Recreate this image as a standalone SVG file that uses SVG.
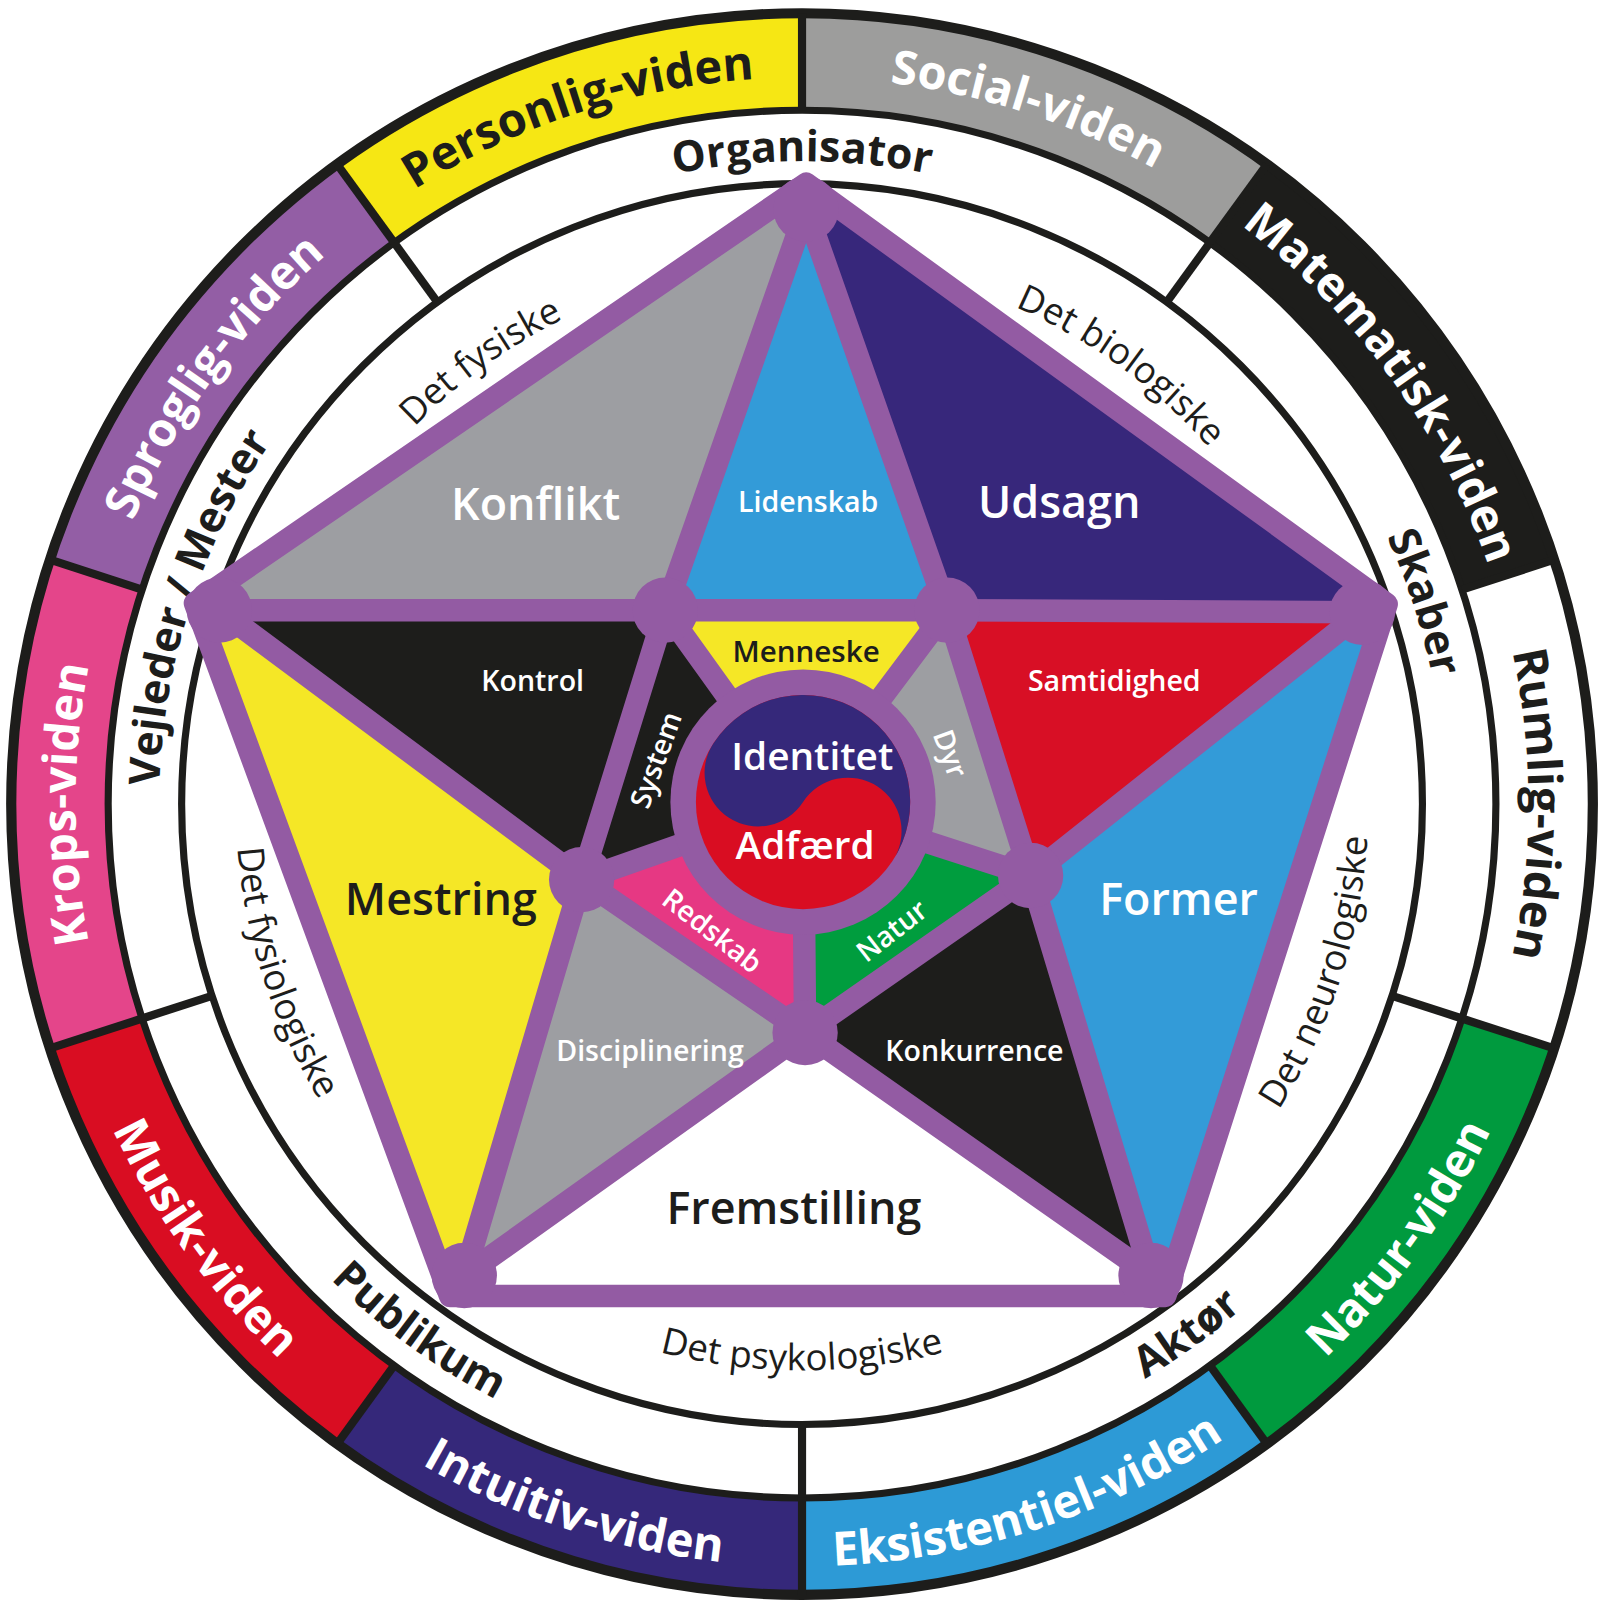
<svg xmlns="http://www.w3.org/2000/svg" xmlns:xlink="http://www.w3.org/1999/xlink" width="1600" height="1600" viewBox="0 0 1600 1600">
<style>
.ob{font-family:"Open Sans","DejaVu Sans",sans-serif;font-weight:700;font-size:46px}
.rl{font-family:"Open Sans","DejaVu Sans",sans-serif;font-weight:700;font-size:42px;fill:#1d1d1b}
.dt{font-family:"Open Sans","DejaVu Sans",sans-serif;font-weight:400;font-size:36px;fill:#1d1d1b}
.big{font-family:"Open Sans","DejaVu Sans",sans-serif;font-weight:600;font-size:44px;text-anchor:middle}
.sm{font-family:"Open Sans","DejaVu Sans",sans-serif;font-weight:600;font-size:28px;text-anchor:middle}
.w{fill:#fff}.k{fill:#1d1d1b}
.pl{fill:none;stroke:#935ba3;stroke-width:22;stroke-linejoin:round;stroke-linecap:round}
.dv{stroke:#1d1d1b;stroke-width:8}
.dot{fill:#935ba3}
</style>
<defs>
<path id="seg" d="M786,13 A775,775 0 0 1 1241.5,161 L1185.7,237.9 A680,680 0 0 0 786,108 Z"/>
<path id="pPer" d="M273.8,293.4 A712,712 0 0 1 909.6,86.8"/>
<path id="pSoc" d="M662.4,86.8 A712,712 0 0 1 1298.2,293.4"/>
<path id="pMat" d="M1098.2,148.1 A712,712 0 0 1 1491.1,688.9"/>
<path id="pRum" d="M1414.6,453.7 A712,712 0 0 1 1414.6,1122.3"/>
<path id="pKro" d="M157.4,1122.3 A712,712 0 0 1 157.4,453.7"/>
<path id="pSpr" d="M80.9,688.9 A712,712 0 0 1 473.8,148.1"/>
<path id="pNat" d="M1113.5,1459.4 A747,747 0 0 0 1525.8,892"/>
<path id="pEks" d="M656.3,1523.6 A747,747 0 0 0 1323.4,1306.9"/>
<path id="pInt" d="M248.6,1306.9 A747,747 0 0 0 915.7,1523.6"/>
<path id="pMus" d="M46.2,892 A747,747 0 0 0 458.5,1459.4"/>
<path id="pOrg" d="M519.7,217 A630,630 0 0 1 1052.3,217"/>
<path id="pSka" d="M1282.5,400.1 A630,630 0 0 1 1415.6,810"/>
<path id="pVej" d="M160.8,864.8 A630,630 0 0 1 325.3,358.3"/>
<path id="pAkt" d="M966.7,1418.6 A656,656 0 0 0 1329.8,1154.8"/>
<path id="pPub" d="M242.2,1154.8 A656,656 0 0 0 605.3,1418.6"/>
<path id="pFys" d="M322.5,531.1 A530,530 0 0 1 684.9,267.8"/>
<path id="pBio" d="M841.4,260.9 A530,530 0 0 1 1270.2,572.4"/>
<path id="pNeu" d="M1157.4,1200.4 A555,555 0 0 0 1328.8,672.6"/>
<path id="pPsy" d="M508.5,1268.6 A555,555 0 0 0 1063.5,1268.6"/>
<path id="pFsl" d="M243.2,672.6 A555,555 0 0 0 414.6,1200.4"/>
</defs>
<g transform="scale(1.0204)">
<g id="ring">
<circle cx="786" cy="788" r="775" fill="#fff"/>
<use xlink:href="#seg" fill="#9d9d9c"/>
<use xlink:href="#seg" fill="#1d1d1b" transform="rotate(36 786 788)"/>
<use xlink:href="#seg" fill="#ffffff" transform="rotate(72 786 788)"/>
<use xlink:href="#seg" fill="#009a3e" transform="rotate(108 786 788)"/>
<use xlink:href="#seg" fill="#2d9ad6" transform="rotate(144 786 788)"/>
<use xlink:href="#seg" fill="#35287a" transform="rotate(180 786 788)"/>
<use xlink:href="#seg" fill="#d90d22" transform="rotate(216 786 788)"/>
<use xlink:href="#seg" fill="#e4458a" transform="rotate(252 786 788)"/>
<use xlink:href="#seg" fill="#935ea5" transform="rotate(288 786 788)"/>
<use xlink:href="#seg" fill="#f6e714" transform="rotate(324 786 788)"/>
<circle cx="786" cy="788" r="775" fill="none" stroke="#1d1d1b" stroke-width="10"/>
<circle cx="786" cy="788" r="680" fill="none" stroke="#1d1d1b" stroke-width="7"/>
<circle cx="786" cy="788" r="608" fill="none" stroke="#1d1d1b" stroke-width="7"/>
<g>
<line class="dv" x1="786" y1="13" x2="786" y2="108"/>
<line class="dv" x1="786" y1="13" x2="786" y2="108" transform="rotate(36 786 788)"/>
<line class="dv" x1="786" y1="13" x2="786" y2="108" transform="rotate(72 786 788)"/>
<line class="dv" x1="786" y1="13" x2="786" y2="108" transform="rotate(108 786 788)"/>
<line class="dv" x1="786" y1="13" x2="786" y2="108" transform="rotate(144 786 788)"/>
<line class="dv" x1="786" y1="13" x2="786" y2="108" transform="rotate(180 786 788)"/>
<line class="dv" x1="786" y1="13" x2="786" y2="108" transform="rotate(216 786 788)"/>
<line class="dv" x1="786" y1="13" x2="786" y2="108" transform="rotate(252 786 788)"/>
<line class="dv" x1="786" y1="13" x2="786" y2="108" transform="rotate(288 786 788)"/>
<line class="dv" x1="786" y1="13" x2="786" y2="108" transform="rotate(324 786 788)"/>
<line class="dv" x1="786" y1="108" x2="786" y2="180" transform="rotate(36 786 788)"/>
<line class="dv" x1="786" y1="108" x2="786" y2="180" transform="rotate(108 786 788)"/>
<line class="dv" x1="786" y1="108" x2="786" y2="180" transform="rotate(180 786 788)"/>
<line class="dv" x1="786" y1="108" x2="786" y2="180" transform="rotate(252 786 788)"/>
<line class="dv" x1="786" y1="108" x2="786" y2="180" transform="rotate(324 786 788)"/>
</g>
<text class="ob k"><textPath xlink:href="#pPer" startOffset="50%" text-anchor="middle">Personlig-viden</textPath></text>
<text class="ob w"><textPath xlink:href="#pSoc" startOffset="50%" text-anchor="middle">Social-viden</textPath></text>
<text class="ob w"><textPath xlink:href="#pMat" startOffset="50%" text-anchor="middle">Matematisk-viden</textPath></text>
<text class="ob k"><textPath xlink:href="#pRum" startOffset="50%" text-anchor="middle">Rumlig-viden</textPath></text>
<text class="ob w"><textPath xlink:href="#pNat" startOffset="50%" text-anchor="middle">Natur-viden</textPath></text>
<text class="ob w"><textPath xlink:href="#pEks" startOffset="50%" text-anchor="middle">Eksistentiel-viden</textPath></text>
<text class="ob w"><textPath xlink:href="#pInt" startOffset="50%" text-anchor="middle">Intuitiv-viden</textPath></text>
<text class="ob w"><textPath xlink:href="#pMus" startOffset="50%" text-anchor="middle">Musik-viden</textPath></text>
<text class="ob w"><textPath xlink:href="#pKro" startOffset="50%" text-anchor="middle">Krops-viden</textPath></text>
<text class="ob w"><textPath xlink:href="#pSpr" startOffset="50%" text-anchor="middle">Sproglig-viden</textPath></text>
<text class="rl"><textPath xlink:href="#pOrg" startOffset="50%" text-anchor="middle">Organisator</textPath></text>
<text class="rl"><textPath xlink:href="#pSka" startOffset="50%" text-anchor="middle">Skaber</textPath></text>
<text class="rl"><textPath xlink:href="#pAkt" startOffset="50%" text-anchor="middle">Aktør</textPath></text>
<text class="rl"><textPath xlink:href="#pPub" startOffset="50%" text-anchor="middle">Publikum</textPath></text>
<text class="rl"><textPath xlink:href="#pVej" startOffset="50%" text-anchor="middle">Vejleder / Mester</textPath></text>
<text class="dt"><textPath xlink:href="#pFys" startOffset="50%" text-anchor="middle">Det fysiske</textPath></text>
<text class="dt"><textPath xlink:href="#pBio" startOffset="50%" text-anchor="middle">Det biologiske</textPath></text>
<text class="dt"><textPath xlink:href="#pNeu" startOffset="50%" text-anchor="middle">Det neurologiske</textPath></text>
<text class="dt"><textPath xlink:href="#pPsy" startOffset="50%" text-anchor="middle">Det psykologiske</textPath></text>
<text class="dt"><textPath xlink:href="#pFsl" startOffset="50%" text-anchor="middle">Det fysiologiske</textPath></text>
</g>
<g id="star-fills">
<polygon points="191,591 790,180 652,598" fill="#9d9ea2"/>
<polygon points="790,180 928,598 652,598" fill="#339bd8"/>
<polygon points="790,180 1359,592 928,598" fill="#37277b"/>
<polygon points="1359,592 1010,858 928,598" fill="#d80f25"/>
<polygon points="1359,592 1142,1270 1010,858" fill="#339bd8"/>
<polygon points="1142,1270 789,1012 1010,858" fill="#1d1d1b"/>
<polygon points="1142,1270 441,1270 789,1012" fill="#ffffff"/>
<polygon points="441,1270 570,862 789,1012" fill="#9d9ea2"/>
<polygon points="441,1270 191,591 570,862" fill="#f5e726"/>
<polygon points="191,591 652,598 570,862" fill="#1d1d1b"/>
<polygon points="787,786 652,598 928,598" fill="#f5e726"/>
<polygon points="787,786 928,598 1010,858" fill="#9d9ea2"/>
<polygon points="787,786 1010,858 789,1012" fill="#009d3e"/>
<polygon points="787,786 789,1012 570,862" fill="#e63883"/>
<polygon points="787,786 570,862 652,598" fill="#1d1d1b"/>
</g>
<g id="connectors">
<polyline class="pl" points="790,205 652,598 570,862 455,1250"/>
<polyline class="pl" points="790,205 928,598 1010,858 1128,1250"/>
<polyline class="pl" points="215,598 652,598 928,598 1335,600"/>
<polyline class="pl" points="215,598 570,862 789,1012 1128,1250"/>
<polyline class="pl" points="1335,600 1010,858 789,1012 455,1250"/>
<polygon class="pl" points="191,591 790,180 1359,592 1142,1270 441,1270" stroke-width="24"/>
<line class="pl" x1="652" y1="598" x2="787" y2="786"/>
<line class="pl" x1="928" y1="598" x2="787" y2="786"/>
<line class="pl" x1="1010" y1="858" x2="787" y2="786"/>
<line class="pl" x1="789" y1="1012" x2="787" y2="786"/>
<line class="pl" x1="570" y1="862" x2="787" y2="786"/>
</g>
<g id="dots">
<circle class="dot" cx="790" cy="205" r="32"/>
<circle class="dot" cx="1335" cy="600" r="32"/>
<circle class="dot" cx="1128" cy="1250" r="32"/>
<circle class="dot" cx="455" cy="1250" r="32"/>
<circle class="dot" cx="215" cy="598" r="32"/>
<circle class="dot" cx="652" cy="598" r="32"/>
<circle class="dot" cx="928" cy="598" r="32"/>
<circle class="dot" cx="1010" cy="858" r="32"/>
<circle class="dot" cx="789" cy="1012" r="32"/>
<circle class="dot" cx="570" cy="862" r="32"/>
</g>
<g id="center">
<circle cx="787" cy="786" r="130" fill="#935ba3"/>
<circle cx="787" cy="786" r="105" fill="#d90d22"/>
<path d="M682,786 A105,105 0 0 1 892,786 A52.5,52.5 0 0 0 787,786 A52.5,52.5 0 0 1 682,786 Z" fill="#35287a" transform="rotate(33 787 786)"/>
<text class="big w" x="796" y="755" style="font-size:38px">Identitet</text>
<text class="big w" x="789" y="842" style="font-size:38px">Adfærd</text>
</g>
<g id="labels">
<text class="big w" x="525" y="510">Konflikt</text>
<text class="big w" x="1038" y="508">Udsagn</text>
<text class="big k" x="432" y="897">Mestring</text>
<text class="big w" x="1155" y="897">Former</text>
<text class="big k" x="778" y="1200">Fremstilling</text>
<text class="sm w" x="792" y="502">Lidenskab</text>
<text class="sm w" x="522" y="677">Kontrol</text>
<text class="sm w" x="1092" y="677">Samtidighed</text>
<text class="sm w" x="637" y="1040">Disciplinering</text>
<text class="sm w" x="955" y="1040">Konkurrence</text>
<text class="sm k" x="790" y="649" style="font-size:29px">Menneske</text>
<text class="sm w" transform="translate(652,748) rotate(-70)">System</text>
<text class="sm w" transform="translate(922,742) rotate(70)">Dyr</text>
<text class="sm w" transform="translate(880,920) rotate(-38)">Natur</text>
<text class="sm w" transform="translate(692,920) rotate(38)">Redskab</text>
</g>
</g>
</svg>
